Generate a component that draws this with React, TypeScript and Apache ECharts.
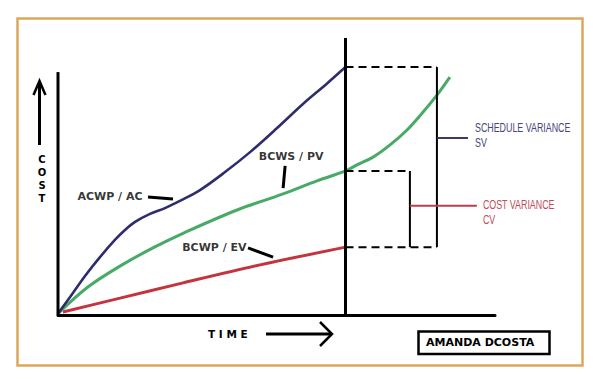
import React, { useEffect, useRef } from "react";
import * as echarts from "echarts";

// Time (x) and cost (y) values
const acTime = [0, 0.42, 0.94, 1.46, 1.98, 2.33, 2.68, 3.2, 3.72, 4.24, 4.94, 5.81, 6.68, 7.62, 8.52, 9.36, 10];
const acCost = [0.5, 6.5, 14.1, 20.9, 27.1, 30.7, 33.6, 36.5, 38.6, 41.2, 45.1, 51.6, 58.8, 67.5, 76.2, 83.6, 89.5];

const pvTime = [0, 1.04, 2.23, 3.37, 4.35, 6.23, 7.83, 9.01, 10, 10.4, 10.96, 11.55, 12.14, 12.7, 13.18, 13.63];
const pvCost = [0.5, 10.1, 18.1, 24.6, 29.5, 37.9, 43.7, 48.4, 52.0, 54.2, 57.0, 61.4, 66.8, 73.3, 79.4, 85.9];

const evTime = [0.17, 2.16, 4.35, 7.03, 10];
const evCost = [1.1, 6.1, 11.6, 18.1, 24.5];

const statusDate = 10;
const timeMax = 15.2;
const costMax = 100;
const costAxisTop = 87.7;
const svBracketTime = 13.18;
const cvBracketTime = 12.24;
const svLeader = [14.26, 63.9];
const cvLeader = [14.57, 39.4];

// label pointer segments [[x1,y1],[x2,y2]]
const acPointer = [[3.13, 42.6], [4.0, 41.9]];
const pvPointer = [[7.9, 53.8], [7.83, 45.8]];
const evPointer = [[6.61, 24.2], [7.48, 20.9]];

const BLUE = "#2d2d6e";
const GREEN = "#48aa66";
const RED = "#c3343f";
const BOLD = "'DejaVu Sans', sans-serif";

const zip = (xs: number[], ys: number[]) => xs.map((x, i) => [x, ys[i]]);

const seg = (data: number[][], color: string, width: number, type: any = "solid", z = 3, smooth: any = false) => ({
  type: "line",
  data,
  smooth,
  symbol: "none",
  clip: false,
  silent: true,
  z,
  lineStyle: { color, width, type, cap: "butt" },
});

const labelPoint = (pt: number[], text: string, position: any, distance: number, offset: number[] = [0, 0]) => ({
  value: pt,
  label: {
    show: true,
    formatter: text,
    position,
    distance,
    offset,
    color: "#000",
    fontFamily: BOLD,
    fontWeight: "bold",
    fontSize: 11,
  },
});

export default function App() {
  const ref = useRef<HTMLDivElement>(null);
  useEffect(() => {
    const chart = echarts.init(ref.current!, null, { renderer: "svg" });
    const acEnd = acCost[acCost.length - 1];
    const evEnd = evCost[evCost.length - 1];
    const pvAtStatus = pvCost[pvTime.indexOf(statusDate)];
    chart.setOption({
      animation: false,
      backgroundColor: "#fff",
      grid: { left: 58, top: 38, width: 437, height: 277 },
      xAxis: {
        type: "value",
        min: 0,
        max: timeMax,
        axisLine: { show: true, lineStyle: { color: "#000", width: 3 } },
        axisTick: { show: false },
        axisLabel: { show: false },
        splitLine: { show: false },
      },
      yAxis: {
        type: "value",
        min: 0,
        max: costMax,
        show: false,
      },
      series: [
        seg(zip(evTime, evCost), RED, 3, "solid", 3, 0.3),
        seg(zip(pvTime, pvCost), GREEN, 3, "solid", 3, 0.35),
        seg(zip(acTime, acCost), BLUE, 2.6, "solid", 3, 0.35),
        seg([[0, 0], [0, costAxisTop]], "#000", 3, "solid", 5),
        seg([[statusDate, 0], [statusDate, costMax]], "#000", 3, "solid", 5),
        seg([[statusDate, acEnd], [svBracketTime, acEnd]], "#000", 2, [8, 5]),
        seg([[statusDate, pvAtStatus], [cvBracketTime, pvAtStatus]], "#000", 2, [8, 5]),
        seg([[statusDate, evEnd], [svBracketTime, evEnd]], "#000", 2, [8, 5]),
        seg([[svBracketTime, acEnd], [svBracketTime, evEnd]], "#000", 2),
        seg([[cvBracketTime, pvAtStatus], [cvBracketTime, evEnd]], "#000", 2),
        seg([[svBracketTime, svLeader[1]], svLeader], "#3a3a62", 2),
        seg([[cvBracketTime, cvLeader[1]], cvLeader], "#b8404c", 2),
        seg(acPointer, "#000", 3),
        seg(pvPointer, "#000", 3),
        seg(evPointer, "#000", 3),
        {
          type: "scatter",
          symbolSize: 1,
          itemStyle: { color: "rgba(0,0,0,0)" },
          silent: true,
          z: 6,
          data: [
            labelPoint(acPointer[0], "ACWP / AC", "left", 5),
            labelPoint(pvPointer[0], "BCWS / PV", "top", 3, [6, 0]),
            labelPoint(evPointer[0], "BCWP / EV", "left", 1),
          ],
        },
      ],
    });

    const sv = chart.convertToPixel({ gridIndex: 0 }, svLeader) as number[];
    const cv = chart.convertToPixel({ gridIndex: 0 }, cvLeader) as number[];
    chart.setOption({
      graphic: [
        {
          type: "rect",
          shape: { x: 17.5, y: 18.5, width: 565, height: 347 },
          style: { fill: "none", stroke: "#dba75c", lineWidth: 2.5 },
          z: 0,
        },
        {
          type: "text",
          x: sv[0] + 7,
          y: sv[1] - 18.5,
          scaleX: 0.71,
          style: {
            text: "SCHEDULE VARIANCE\nSV",
            fontFamily: "'Liberation Sans', Arial, sans-serif",
            fontSize: 12.5,
            lineHeight: 15,
            fill: "#45457a",
            align: "left",
            verticalAlign: "top",
          },
        },
        {
          type: "text",
          x: cv[0] + 6,
          y: cv[1] - 8.5,
          scaleX: 0.71,
          style: {
            text: "COST VARIANCE\nCV",
            fontFamily: "'Liberation Sans', Arial, sans-serif",
            fontSize: 12.5,
            lineHeight: 15,
            fill: "#c04a58",
            align: "left",
            verticalAlign: "top",
          },
        },
        {
          type: "text",
          x: 42,
          y: 153.6,
          style: {
            text: "C\nO\nS\nT",
            fontFamily: BOLD,
            fontWeight: "bold",
            fontSize: 10,
            lineHeight: 12.7,
            fill: "#000",
            align: "center",
            verticalAlign: "top",
          },
        },
        {
          type: "polyline",
          shape: { points: [[39.5, 145], [39.5, 81]] },
          style: { stroke: "#000", lineWidth: 3, fill: "none" },
        },
        {
          type: "polyline",
          shape: { points: [[33.5, 95], [39.5, 81], [45.5, 95]] },
          style: { stroke: "#000", lineWidth: 2.5, fill: "none" },
        },
        {
          type: "text",
          x: 208,
          y: 334,
          style: {
            text: "T I M E",
            fontFamily: BOLD,
            fontWeight: "bold",
            fontSize: 10.5,
            fill: "#000",
            align: "left",
            verticalAlign: "middle",
          },
        },
        {
          type: "polyline",
          shape: { points: [[266, 334], [331, 334]] },
          style: { stroke: "#000", lineWidth: 3, fill: "none" },
        },
        {
          type: "polyline",
          shape: { points: [[320, 322], [332, 334], [320, 346]] },
          style: { stroke: "#000", lineWidth: 2.5, fill: "none" },
        },
        {
          type: "rect",
          shape: { x: 418.5, y: 331.5, width: 131, height: 22.5 },
          style: { fill: "none", stroke: "#000", lineWidth: 2.5 },
        },
        {
          type: "text",
          x: 426,
          y: 342.5,
          style: {
            text: "AMANDA DCOSTA",
            fontFamily: BOLD,
            fontWeight: "bold",
            fontSize: 11,
            fill: "#000",
            align: "left",
            verticalAlign: "middle",
          },
        },
      ],
    });
    return () => chart.dispose();
  }, []);
  return (
    <div
      ref={ref}
      style={{ position: "absolute", left: 0, top: 0, width: 593, height: 379, background: "#fff" }}
    />
  );
}
